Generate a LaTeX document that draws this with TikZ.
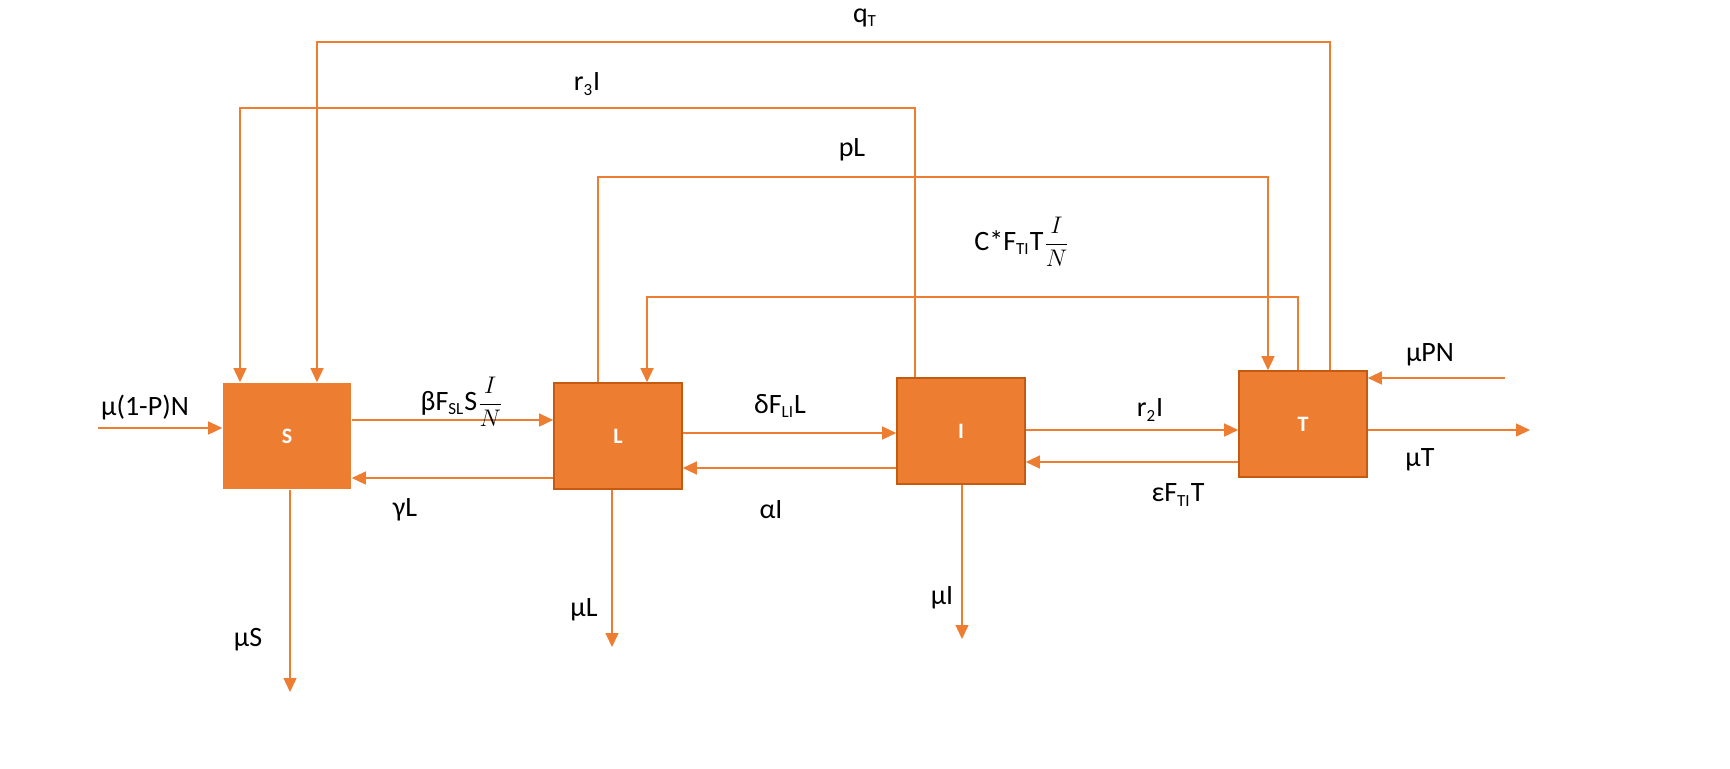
\documentclass[tikz,border=0pt]{standalone}
\usepackage{fontspec}
\setmainfont{Carlito}
\usetikzlibrary{arrows.meta}
\definecolor{ln}{HTML}{ED7D31}
\definecolor{bx}{HTML}{ED7D31}
\definecolor{bd}{HTML}{C55A11}
\tikzset{
 box/.style={fill=bx,draw=bd,line width=0.8pt,minimum width=64pt,minimum height=53pt,inner sep=0,text=white,font=\fontsize{11}{12}\selectfont\bfseries},
 flow/.style={draw=ln,line width=0.65pt,-{Triangle[length=7pt,width=6.5pt]}},
 lab/.style={font=\fontsize{14}{16}\selectfont,inner sep=0.5pt}
}
\newcommand{\sbs}[1]{\textsubscript{\fontsize{8.5}{9}\selectfont #1}}
\newcommand{\fr}{{\fontsize{11.5}{12}\selectfont$\displaystyle\frac{I}{N}$}}
\begin{document}
\begin{tikzpicture}[x=0.5pt,y=-0.5pt]
\useasboundingbox (0,0) rectangle (1730,768);
\node[box,draw=none] (S) at (287,436) {S};
\node[box] (L) at (618,436) {L};
\node[box] (I) at (961,431) {I};
\node[box] (T) at (1303,424) {T};
\coordinate (inS) at (98,428);
\coordinate (inT) at (1505,378);
\coordinate (outT) at (1530,430);
\coordinate (dS) at (290,692);
\coordinate (dL) at (612,647);
\coordinate (dI) at (962,639);
\draw[flow] (inS) -- (S.west |- inS);
\draw[flow] (S.east |- 0,420) -- (L.west |- 0,420);
\draw[flow] (L.west |- 0,478) -- (S.east |- 0,478);
\draw[flow] (L.east |- 0,433) -- (I.west |- 0,433);
\draw[flow] (I.west |- 0,468) -- (L.east |- 0,468);
\draw[flow] (I.east |- 0,430) -- (T.west |- 0,430);
\draw[flow] (T.west |- 0,462) -- (I.east |- 0,462);
\draw[flow] (inT) -- (T.east |- inT);
\draw[flow] (T.east |- outT) -- (outT);
\draw[flow] (S.south -| dS) -- (dS);
\draw[flow] (L.south -| dL) -- (dL);
\draw[flow] (I.south -| dI) -- (dI);
\draw[flow] (T.north -| 1330,0) -- (1330,42) -- (317,42) -- (S.north -| 317,0);
\draw[flow] (I.north -| 915,0) -- (915,108) -- (240,108) -- (S.north -| 240,0);
\draw[flow] (L.north -| 598,0) -- (598,177) -- (1268,177) -- (T.north -| 1268,0);
\draw[flow] (T.north -| 1298,0) -- (1298,297) -- (647,297) -- (L.north -| 647,0);
\node[lab] (lqT) at (865,18) {q\sbs{T}};
\node[lab] (lr3) at (587,84) {r\sbs{3}I};
\node[lab] (lpL) at (852,150) {pL};
\node[lab] (lC) at (1022,242) {C*F\sbs{TI}T\fr};
\node[lab] (lin) at (145,408) {μ(1-P)N};
\node[lab] (lb) at (462,402) {βF\sbs{SL}S\fr};
\node[lab] (lg) at (405,510) {γL};
\node[lab] (ld) at (780,406) {δF\sbs{LI}L};
\node[lab] (la) at (771,510) {αI};
\node[lab] (lr2) at (1150,410) {r\sbs{2}I};
\node[lab] (le) at (1178,495) {εF\sbs{TI}T};
\node[lab] (lPN) at (1430,355) {μPN};
\node[lab] (lT) at (1420,460) {μT};
\node[lab] (lS) at (248,640) {μS};
\node[lab] (lL) at (584,610) {μL};
\node[lab] (lI) at (942,598) {μI};
\end{tikzpicture}
\end{document}
